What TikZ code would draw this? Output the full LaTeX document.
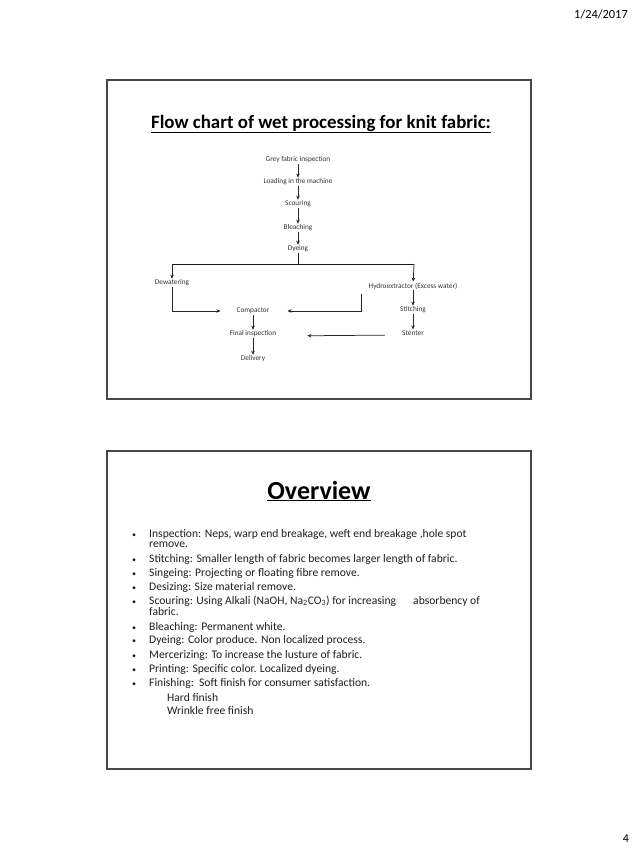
\documentclass[tikz,border=0pt]{standalone}
\usepackage{fontspec}
\setmainfont{Carlito}
\usetikzlibrary{arrows.meta}
\begin{document}
\begin{tikzpicture}[x=1pt,y=-1pt,
  fc/.style={font=\fontsize{7.3}{8}\selectfont, inner sep=1pt, text=black!80},
  arr/.style={-{Stealth[length=4pt,width=3.6pt]}, line width=0.75pt, black!85},
  ln/.style={line width=0.9pt, black!90},
  frame/.style={draw=black!72, line width=1.3pt},
  li/.style={anchor=base west, inner sep=0pt, text=black!88, font=\fontsize{11.6}{13}\selectfont},
  bul/.style={anchor=base, inner sep=0pt, text=black!88, font=\fontsize{8}{10}\selectfont}]
\useasboundingbox (0,0) rectangle (638,851);
\fill[white] (0,0) rectangle (638,851);

% header / footer
\node[anchor=base, inner sep=0pt, font=\fontsize{12.4}{14}\selectfont] (date) at (601,19) {1/24/2017};
\node[anchor=base, inner sep=0pt, font=\fontsize{12}{14}\selectfont] (pg) at (626,842) {4};

% frames
\draw[frame] (107,80) rectangle (531,399);
\draw[frame] (107,451) rectangle (531,769);

% flow chart
\node[anchor=base, inner sep=0pt, font=\bfseries\fontsize{18.9}{22}\selectfont] (title) at (321,128) {\underline{Flow chart of wet processing for knit fabric:}};

\node[fc] (grey) at (298,160) {Grey fabric inspection};
\node[fc] (load) at (298,182) {Loading in the machine};
\node[fc] (scour) at (298,204) {Scouring};
\node[fc] (bleach) at (298,228) {Bleaching};
\node[fc] (dye) at (298,249) {Dyeing};
\node[fc] (dew) at (172,283) {Dewatering};
\node[fc] (hyd) at (413,286) {Hydroextractor (Excess water)};
\node[fc] (comp) at (253,311) {Compactor};
\node[fc] (stit) at (413,310) {Stitching};
\node[fc] (sten) at (413,333) {Stenter};
\node[fc] (fin) at (253,334) {Final inspection};
\node[fc] (del) at (253,359) {Delivery};

\draw[arr] (grey) -- (load);
\draw[arr] (load) -- (scour);
\draw[arr] (scour) -- (bleach);
\draw[arr] (bleach) -- (dye);

\coordinate (jn) at (298,264);
\coordinate (jl) at (172,264);
\coordinate (jr) at (414,264);
\draw[ln] (dye) -- (jn);
\draw[ln] (jl) -- (jr);
\draw[arr] (jl) -- (dew);
\draw[arr] (jr) -- (hyd);

\draw[arr, shorten >=15pt] (dew) |- (comp.west);
\coordinate (hs) at (361,294);
\draw[arr, shorten >=17pt] (hs) |- (comp.east);
\draw[arr] (hyd) -- (stit);
\draw[arr] (stit) -- (sten);
\draw[arr, shorten <=16pt, shorten >=30pt] ([yshift=-2pt]sten.west) -- ([yshift=-2pt]fin.east);
\draw[arr] (comp) -- (fin);
\draw[arr] (fin) -- (del);

% overview
\node[anchor=base, inner sep=0pt, font=\bfseries\fontsize{26}{30}\selectfont] (ov) at (319,499) {\underline{Overview}};

\foreach \y in {537,562,576,590,604,630,643,658,672,686}
  \node[bul] at (134,\y) {•};

\node[li] (l1) at (149,537) {Inspection: Neps, warp end breakage, weft end breakage ,hole spot};
\node[li] (l1b) at (149,547) {remove.};
\node[li] (l2) at (149,562) {Stitching: Smaller length of fabric becomes larger length of fabric.};
\node[li] (l3) at (149,576) {Singeing: Projecting or floating fibre remove.};
\node[li] (l4) at (149,590) {Desizing: Size material remove.};
\node[li] (l5) at (149,604) {Scouring: Using Alkali (NaOH, Na\textsubscript{2}CO\textsubscript{3}) for increasing};
\node[li] (l5a) at (413,604) {absorbency of};
\node[li] (l5b) at (149,615) {fabric.};
\node[li] (l6) at (149,630) {Bleaching: Permanent white.};
\node[li] (l7) at (149,643) {Dyeing: Color produce. Non localized process.};
\node[li] (l8) at (149,658) {Mercerizing: To increase the lusture of fabric.};
\node[li] (l9) at (149,672) {Printing: Specific color. Localized dyeing.};
\node[li] (l10) at (149,686) {Finishing:\ \ Soft finish for consumer satisfaction.};
\node[li] (l11) at (167,701) {Hard finish};
\node[li] (l12) at (167,714) {Wrinkle free finish};
\end{tikzpicture}
\end{document}
